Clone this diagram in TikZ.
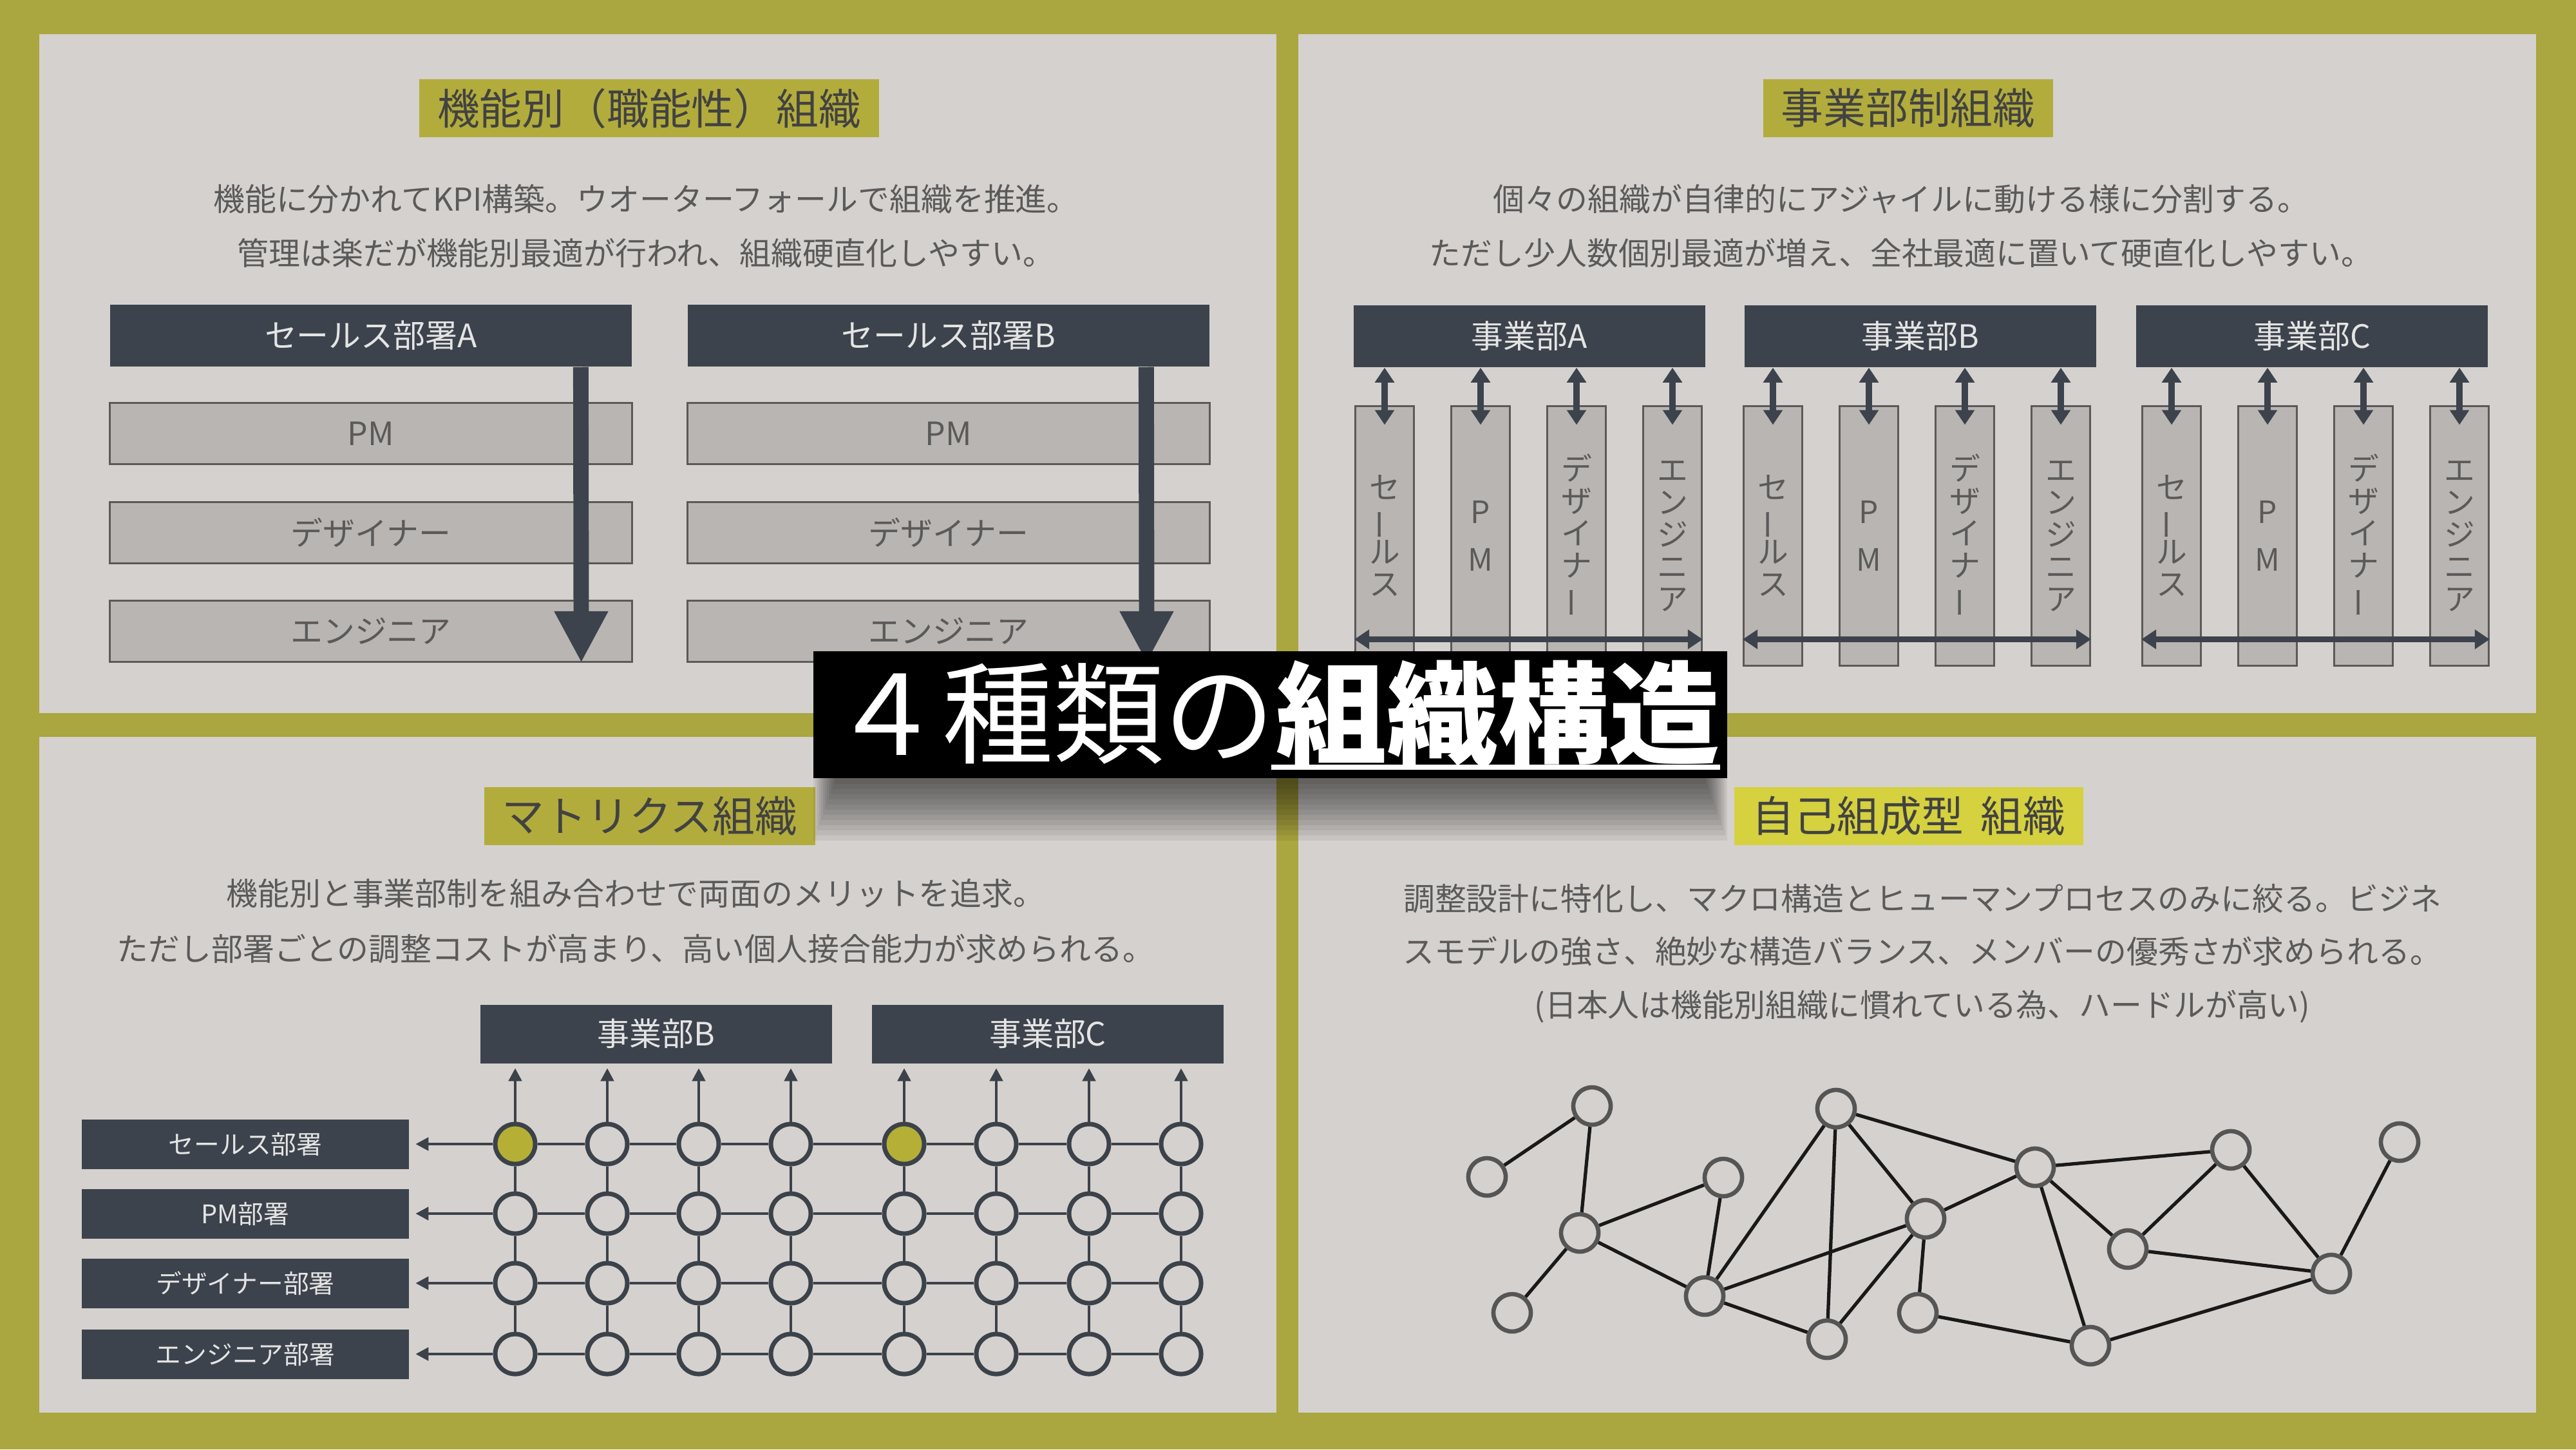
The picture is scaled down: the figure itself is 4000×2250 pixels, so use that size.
\documentclass[tikz,border=0pt]{standalone}
\usepackage{fontspec}
\setmainfont{Noto Sans CJK JP}
\usetikzlibrary{arrows.meta,positioning}

\definecolor{bgolive}{HTML}{AAA640}
\definecolor{tagolive}{HTML}{B2AC3C}
\definecolor{tagyellow}{HTML}{D5D13F}
\definecolor{panel}{HTML}{D5D1CE}
\definecolor{slate}{HTML}{3C434C}
\definecolor{cellgray}{HTML}{B9B5B2}
\definecolor{cellline}{HTML}{5A5A5A}
\definecolor{inkgray}{HTML}{5A5A5A}
\definecolor{titleink}{HTML}{424242}
\definecolor{hdrink}{HTML}{E4E4E4}
\definecolor{dotline}{HTML}{3C424A}
\definecolor{dotolive}{HTML}{B5AF36}
\definecolor{peerline}{HTML}{555555}

\newcommand{\tagfont}{\fontsize{18.7pt}{18.7pt}\selectfont}
\newcommand{\descfont}{\fontsize{13.9pt}{23.8pt}\selectfont}
\newcommand{\hdrfont}{\fontsize{14.2pt}{14.2pt}\selectfont}
\newcommand{\rowfont}{\fontsize{11.3pt}{11.3pt}\selectfont}
\newcommand{\tatefont}{\fontsize{13.6pt}{14.2pt}\selectfont}
\newcommand{\bigfont}{\fontsize{49pt}{49pt}\selectfont}
\newcommand{\tatebo}{\rotatebox[origin=c]{90}{ー}}

\begin{document}
\begin{tikzpicture}[x=0.01cm, y=-0.01cm,
    tag/.style={fill=tagolive, text=titleink, font=\tagfont, minimum height=0.9cm, inner xsep=0.28cm, inner ysep=0},
    desc/.style={text=inkgray, font=\descfont, align=center, inner sep=0},
    hdr/.style={fill=slate, text=hdrink, font=\hdrfont, minimum height=0.96cm, inner sep=0},
    cell/.style={fill=cellgray, draw=cellline, line width=0.8pt, text=inkgray, font=\hdrfont, minimum width=8.1cm, minimum height=0.95cm, inner sep=0},
    lane/.style={fill=cellgray, draw=cellline, line width=0.8pt, text=inkgray, font=\tatefont, align=center, minimum width=0.91cm, minimum height=4.02cm, inner sep=0},
    dept/.style={fill=slate, text=hdrink, font=\rowfont, minimum width=5.07cm, minimum height=0.77cm, inner sep=0},
    dot/.style={circle, draw=dotline, line width=2pt, fill=panel, minimum size=0.62cm, inner sep=0},
    peer/.style={circle, draw=peerline, line width=1.9pt, fill=panel, minimum size=0.58cm, inner sep=0},
    flow/.style={draw=slate, line width=6.8pt, -{Triangle[width=0.78cm,length=0.8cm]}},
    twoway/.style={draw=slate, line width=2.8pt, {Triangle[width=0.29cm,length=0.23cm]}-{Triangle[width=0.29cm,length=0.23cm]}},
    mline/.style={draw=dotline, line width=1.3pt},
    marrow/.style={mline, -{Triangle[width=0.2cm,length=0.2cm]}},
    tie/.style={draw=black!90, line width=1.5pt},
    bigtxt/.style={text=white, font=\bigfont, inner sep=0}]

    % Background and panels
    \useasboundingbox (0,0) rectangle (4000,2250);
    \fill[bgolive] (0,0) rectangle (4000,2250);
    \fill[panel] (61,53) rectangle (1982,1107);
    \fill[panel] (2016,53) rectangle (3938,1107);
    \fill[panel] (61,1144) rectangle (1982,2193);
    \fill[panel] (2016,1144) rectangle (3938,2193);

    % Functional organisation
    \node[tag] (tagF) at (1008,168) {機能別（職能性）組織};
    \node[desc] (descF) at (1003,351) {機能に分かれてKPI構築。ウオーターフォールで組織を推進。\\管理は楽だが機能別最適が行われ、組織硬直化しやすい。};
    \foreach \n/\x/\s in {A/576/0.8, B/1473/0.99} {
        \node[hdr, minimum width=8.1cm] (sales\n) at (\x,521) {セールス部署\n};
        \node[cell] (pm\n) at (\x,673) {PM};
        \node[cell] (ds\n) at (\x,827) {デザイナー};
        \node[cell] (en\n) at (\x,980) {エンジニア};
        \draw[flow] ([xshift=-\s cm]sales\n.south east) -- ([xshift=-\s cm]en\n.south east);
    }

    % Divisional organisation
    \node[tag] (tagD) at (2963,168) {事業部制組織};
    \node[desc] (descD) at (2952,351) {個々の組織が自律的にアジャイルに動ける様に分割する。\\ただし少人数個別最適が増え、全社最適に置いて硬直化しやすい。};
    \foreach \n/\x/\c in {A/2375/2150, B/2982/2753, C/3590/3372} {
        \node[hdr, minimum width=5.46cm] (div\n) at (\x,522) {事業部\n};
        \foreach \k/\t in {1/{セ\\\tatebo\\ル\\ス}, 2/{P\\[7pt]M}, 3/{デ\\ザ\\イ\\ナ\\\tatebo}, 4/{エ\\ン\\ジ\\ニ\\ア}} {
            \node[lane] (div\n\k) at ({\c+(\k-1)*149},832) {\t};
            \draw[twoway] (div\n.south -| div\n\k.north) -- ([yshift=-0.3cm]div\n\k.north);
        }
        \draw[twoway] ([yshift=0.42cm]div\n1.south west) -- ([yshift=0.42cm]div\n4.south east);
    }

    % Matrix organisation
    \node[tag] (tagM) at (1009,1267) {マトリクス組織};
    \node[desc, font=\fontsize{13.9pt}{24.4pt}\selectfont] (descM) at (987,1430) {機能別と事業部制を組み合わせで両面のメリットを追求。\\ただし部署ごとの調整コストが高まり、高い個人接合能力が求められる。};
    \node[hdr, minimum width=5.46cm, minimum height=0.91cm] (mxB) at (1019,1605) {事業部B};
    \node[hdr, minimum width=5.45cm, minimum height=0.91cm] (mxC) at (1627,1605) {事業部C};
    \foreach \r/\y/\t in {1/1776/セールス部署, 2/1884/PM部署, 3/1992/デザイナー部署, 4/2102/エンジニア部署}
        \node[dept] (dept\r) at (381,\y) {\t};
    \foreach \c/\x/\f in {1/800/dotolive, 2/943/panel, 3/1085/panel, 4/1228/panel, 5/1404/dotolive, 6/1547/panel, 7/1691/panel, 8/1834/panel} {
        \node[dot, fill=\f] (m1\c) at (\x,1776) {};
        \foreach \r/\y in {2/1884, 3/1992, 4/2102}
            \node[dot] (m\r\c) at (\x,\y) {};
        \draw[mline] (m1\c) -- (m2\c) -- (m3\c) -- (m4\c);
        \draw[marrow, shorten >=0.07cm] (m1\c) -- (m1\c |- mxB.south);
    }
    \foreach \r in {1,...,4} {
        \draw[mline] (m\r1) -- (m\r2) -- (m\r3) -- (m\r4) -- (m\r5) -- (m\r6) -- (m\r7) -- (m\r8);
        \draw[marrow, shorten >=0.1cm] (m\r1) -- (dept\r);
    }

    % Self-organising
    \node[tag, fill=tagyellow] (tagS) at (2964,1267) {自己組成型\hspace{0.4em}組織};
    \node[desc, font=\fontsize{13.9pt}{23.4pt}\selectfont] (descS) at (2985,1480) {調整設計に特化し、マクロ構造とヒューマンプロセスのみに絞る。ビジネ\\スモデルの強さ、絶妙な構造バランス、メンバーの優秀さが求められる。\\(日本人は機能別組織に慣れている為、ハードルが高い)};
    \foreach \n/\x/\y in {1/2472/1717, 2/2309/1827, 3/2453/1914, 4/2676/1828, 5/2348/2038, 6/2647/2012, 7/2851/1721, 8/2837/2079,
                         9/2990/1892, 10/2978/2038, 11/3160/1812, 12/3246/2089, 13/3304/1939, 14/3464/1785, 15/3620/1977, 16/3726/1773}
        \node[peer] (p\n) at (\x,\y) {};
    \foreach \a/\b in {1/2, 1/3, 3/4, 3/5, 3/6, 4/6, 6/7, 6/9, 6/8, 7/8, 7/9, 7/11, 9/11, 9/8, 9/10, 10/12,
                       11/12, 11/13, 11/14, 13/14, 13/15, 14/15, 12/15, 15/16}
        \draw[tie] (p\a) -- (p\b);

    % Banner
    \foreach \k in {0,...,11}
        \fill[black, opacity=0.06] (1263+3*\k,1208) rectangle (2682-3*\k,1305-8*\k);
    \node[fill=black, minimum width=14.19cm, minimum height=1.97cm, inner sep=0] (banner) at (1972.5,1109.5) {};
    \node[bigtxt, anchor=west] (ttlA) at (1290,1108) {４種類の};
    \node[bigtxt, font=\bigfont\bfseries, anchor=west] (ttlB) at (ttlA.east) {組織構造};
    \draw[white, line width=2.3pt] ([xshift=-0.07cm]ttlB.south west) -- (ttlB.south east);
\end{tikzpicture}
\end{document}
